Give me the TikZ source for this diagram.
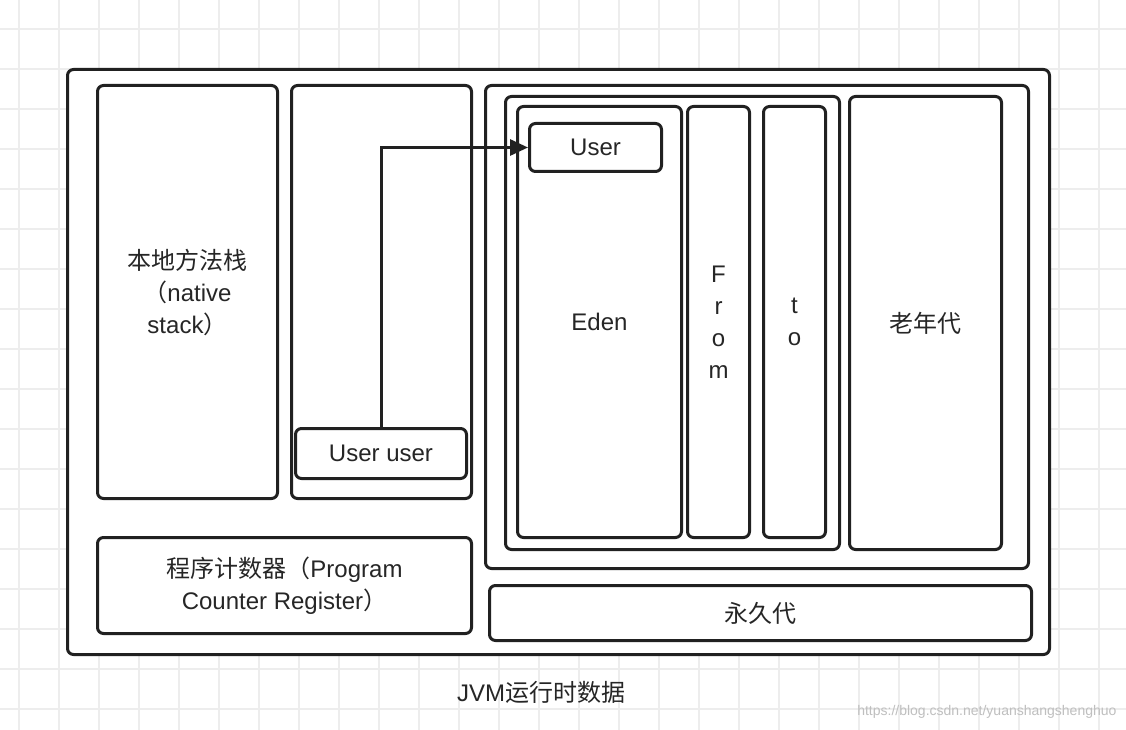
\documentclass[tikz,border=0pt]{standalone}
\usepackage{fontspec}
\setmainfont{Liberation Sans}
\newfontfamily\cjk{Noto Sans CJK SC}
\usetikzlibrary{arrows.meta}
\begin{document}
\begin{tikzpicture}[x=1pt,y=-1pt,
  box/.style={draw=black!87,line width=3pt,rounded corners=6pt,fill=white},
  lbl/.style={font=\fontsize{24}{32}\selectfont,align=center,text=black!85},
  arr/.style={draw=black!87,line width=3pt,-{Triangle[length=18pt,width=16pt]}}]
\useasboundingbox (0,0) rectangle (1126,730);
\fill[white] (0,0) rectangle (1126,730);
\foreach \i in {0,...,28} {\draw[black!7,line width=2pt] (19+40*\i,0) -- (19+40*\i,730);}
\foreach \j in {0,...,18} {\draw[black!7,line width=2pt] (0,29+40*\j) -- (1126,29+40*\j);}
\node[box,minimum width=982,minimum height=585,anchor=north west] (jvm) at (66,68) {};
\node[box,minimum width=180,minimum height=413,anchor=north west,lbl] (native) at (96,84) {{\cjk 本地方法栈}\\{\cjk （}native\\stack{\cjk ）}};
\node[box,minimum width=180,minimum height=413,anchor=north west] (stack) at (290,84) {};
\node[box,minimum width=171,minimum height=50,anchor=north west,lbl] (uu) at (294,427) {User user};
\node[box,minimum width=543,minimum height=483,anchor=north west] (heap) at (484,84) {};
\node[box,minimum width=334,minimum height=453,anchor=north west] (young) at (504,95) {};
\node[box,minimum width=164,minimum height=431,anchor=north west,lbl] (eden) at (516,105) {Eden};
\node[box,minimum width=132,minimum height=48,anchor=north west,lbl] (user) at (528,122) {User};
\node[box,minimum width=62,minimum height=431,anchor=north west,lbl] (from) at (686,105) {F\\r\\o\\m};
\node[box,minimum width=62,minimum height=431,anchor=north west,lbl] (to) at (762,105) {t\\o};
\node[box,minimum width=152,minimum height=453,anchor=north west,lbl] (old) at (848,95) {\cjk 老年代};
\node[box,minimum width=542,minimum height=55,anchor=north west,lbl] (perm) at (488,584) {\cjk 永久代};
\node[box,minimum width=374,minimum height=96,anchor=north west,lbl] (pc) at (96,536) {{\cjk 程序计数器（}Program\\Counter Register{\cjk ）}};
\node[lbl] (title) at (541,692) {JVM{\cjk 运行时数据}};
\node[font=\fontsize{14}{16}\selectfont,text=black!25,anchor=east] (wm) at (1120,712) {https://blog.csdn.net/yuanshangshenghuo};
\draw[arr] (uu.north) -- (uu.north |- user.west) -- (user.west);
\end{tikzpicture}
\end{document}
